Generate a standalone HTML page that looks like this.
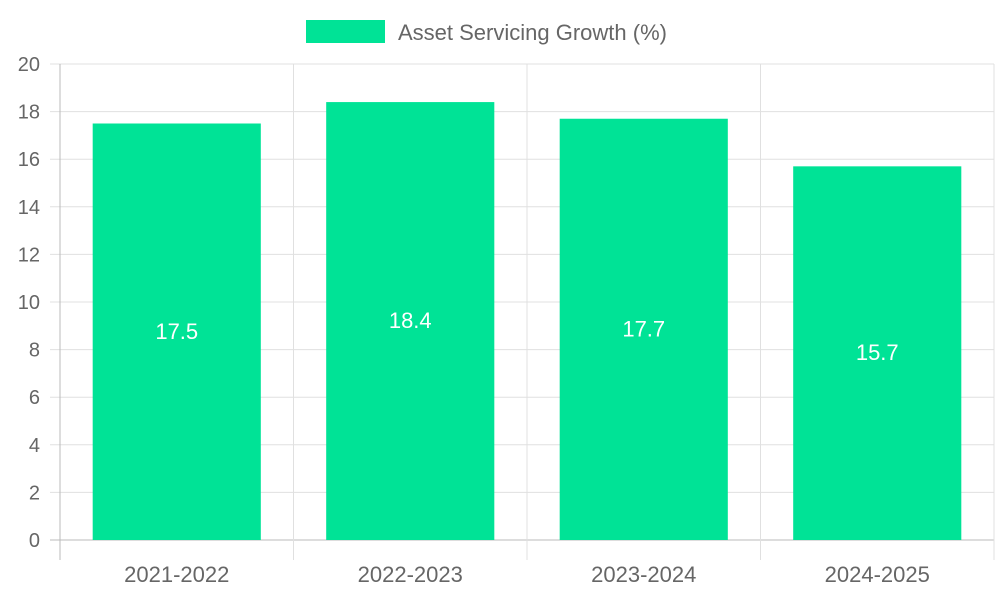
<!DOCTYPE html>
<html><head><meta charset="utf-8"><style>
html,body{margin:0;padding:0;background:#fff;}
svg{display:block;font-family:"Liberation Sans",sans-serif;}
</style></head><body>
<svg id="chart" width="1000" height="600"></svg>
<script>
const categories = ["2021-2022","2022-2023","2023-2024","2024-2025"];
const values = [17.5,18.4,17.7,15.7];
const yTicks = [0,2,4,6,8,10,12,14,16,18,20];
const seriesName = "Asset Servicing Growth (%)";

const NS="http://www.w3.org/2000/svg";
const svg=document.getElementById("chart");
const L=60,R=994,T=64,B=540,yMax=20;
const bw=(R-L)/categories.length;
function y(v){return B-(v/yMax)*(B-T);}
function x(i){return L+bw*i;}
function mk(tag,attrs,parent){const e=document.createElementNS(NS,tag);for(const k in attrs)e.setAttribute(k,attrs[k]);(parent||svg).appendChild(e);return e;}

// legend
const lg=mk("g",{});


mk("rect",{x:306,y:20,width:79,height:23,fill:"#00e396"},lg);
const lt=mk("text",{x:398,y:40,"font-size":22,fill:"#666"},lg);lt.textContent=seriesName;

// grid + y ticks
yTicks.forEach(t=>{
  const g=mk("line",{x1:50,x2:R,y1:y(t),y2:y(t),stroke:t===0?"#bbb":"#e0e0e0","stroke-width":1});
  
  
  const tx=mk("text",{x:40,y:y(t)+7,"font-size":20,fill:"#666","text-anchor":"end"});
  tx.textContent=t;
  
  
});
for(let i=0;i<=categories.length;i++){
  const l=mk("line",{x1:x(i),x2:x(i),y1:T,y2:560,stroke:i===0?"#bbb":"#e0e0e0","stroke-width":1});
  
  
}

// bars
values.forEach((v,i)=>{
  const w=bw*0.72,cx=x(i)+bw/2;
  const r=mk("rect",{x:cx-w/2,y:y(v),width:w,height:B-y(v),fill:"#00e396"});
  
  
  const lab=mk("text",{x:cx,y:(y(v)+B)/2+7,"font-size":22,fill:"#fff","text-anchor":"middle"});
  lab.textContent=v;
  
  
  const cl=mk("text",{x:cx,y:582,"font-size":22,fill:"#666","text-anchor":"middle"});
  cl.textContent=categories[i];
  
  
});
</script>
</body></html>
